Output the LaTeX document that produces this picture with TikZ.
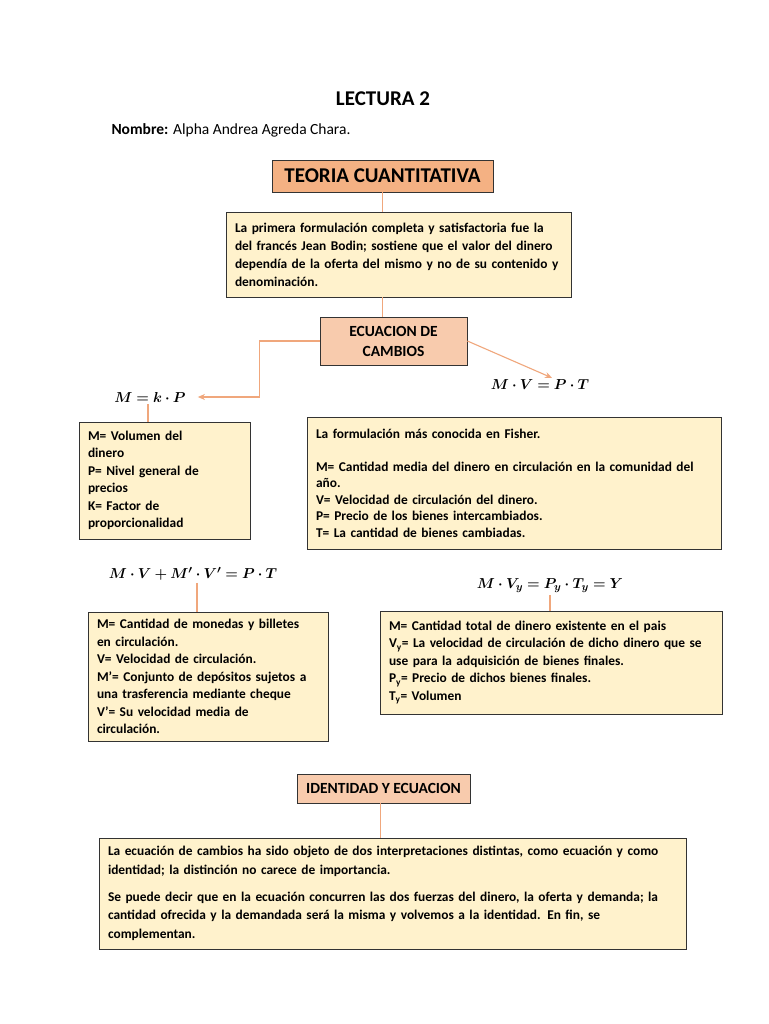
\documentclass[tikz,border=0pt]{standalone}
\usepackage{fontspec}
\setmainfont{Carlito}
\usepackage{amsmath,amssymb}
\usepackage{bm}
\usetikzlibrary{arrows.meta,positioning}
\definecolor{salmon}{HTML}{F4B183}
\definecolor{peach}{HTML}{F8CBAD}
\definecolor{cream}{HTML}{FFF2CC}
\definecolor{linkc}{HTML}{F0A77C}

\begin{document}
\begin{tikzpicture}[
    x=1pt, y=-1pt,
    every node/.style={font=\bfseries\fontsize{13.4}{17.5}\selectfont},
    head/.style={draw=black!80, line width=0.8pt, inner sep=0pt, align=center},
    note/.style={draw=black!80, line width=0.8pt, fill=cream, align=left, inner xsep=9pt, inner ysep=0pt},
    link/.style={line width=1.1pt, draw=linkc},
    arr/.style={link, -{Stealth[length=7pt, width=6pt]}},
    eq/.style={font=\fontsize{15}{18}\selectfont, inner sep=2pt}
  ]
    \useasboundingbox[fill=white] (0,0) rectangle (768,1024);
    \node[font=\bfseries\fontsize{21}{24}\selectfont] (lect) at (383,99) {LECTURA 2};
    \node[anchor=west, font=\fontsize{15.5}{18}\selectfont] (nom) at (108,130)
      {\textbf{Nombre:} Alpha Andrea Agreda Chara.};

    \node[head, fill=salmon, minimum width=221pt, minimum height=32pt,
      font=\bfseries\fontsize{21}{24}\selectfont] (teo) at (382.5,176) {TEORIA CUANTITATIVA};
    \node[note, text width=327pt, minimum height=85pt, font=\bfseries\fontsize{13.4}{18}\selectfont] (bodin) at (398.5,254.5)
      {La primera formulación completa y satisfactoria fue la\\
       del francés Jean Bodin; sostiene que el valor del dinero\\
       dependía de la oferta del mismo y no de su contenido y\\
       denominación.};
    \node[head, fill=peach, minimum width=147pt, minimum height=48pt,
      font=\bfseries\fontsize{15.5}{20}\selectfont] (ecu) at (393.5,341) {ECUACION DE\\CAMBIOS};

    % formulas
    \node[eq] (fkp) at (150,397) {$\bm{M = k\cdot P}$};
    \node[eq] (fmv) at (540,385) {$\bm{M\cdot V = P\cdot T}$};
    \node[eq] (fmv2) at (193,574) {$\bm{M\cdot V + M'\cdot V' = P\cdot T}$};
    \node[eq] (fmvy) at (550,586) {$\bm{M\cdot V_y = P_y\cdot T_y = Y}$};

    \node[note, text width=153pt, minimum height=117pt] (kp) at (164.5,480.5)
      {M= Volumen del\\dinero\\P= Nivel general de\\precios\\K= Factor de\\proporcionalidad};
    \node[note, text width=396pt, minimum height=132pt, font=\bfseries\fontsize{13.4}{16.5}\selectfont] (fish) at (514,483)
      {La formulación más conocida en Fisher.\\[16.5pt]
       M= Cantidad media del dinero en circulación en la comunidad del\\
       año.\\
       V= Velocidad de circulación del dinero.\\
       P= Precio de los bienes intercambiados.\\
       T= La cantidad de bienes cambiadas.};
    \node[note, text width=222pt, minimum height=129pt] (dep) at (208,676.5)
      {M= Cantidad de monedas y billetes\\
       en circulación.\\
       V= Velocidad de circulación.\\
       M’= Conjunto de depósitos sujetos a\\
       una trasferencia mediante cheque\\
       V’= Su velocidad media de\\
       circulación.};
    \node[note, text width=324pt, minimum height=103pt] (fin) at (551,662.5)
      {M= Cantidad total de dinero existente en el pais\\
       V\textsubscript{y}= La velocidad de circulación de dicho dinero que se\\
       use para la adquisición de bienes finales.\\
       P\textsubscript{y}= Precio de dichos bienes finales.\\
       T\textsubscript{y}= Volumen};

    \node[head, fill=peach, minimum width=173pt, minimum height=29pt,
      font=\bfseries\fontsize{15.5}{18}\selectfont] (ide) at (383.5,788.5) {IDENTIDAD Y ECUACION};
    \node[note, text width=569pt, minimum height=111pt, font=\bfseries\fontsize{13.4}{18.5}\selectfont] (conc) at (392.5,893.5)
      {La ecuación de cambios ha sido objeto de dos interpretaciones distintas, como ecuación y como\\
       identidad; la distinción no carece de importancia.\\[8.5pt]
       Se puede decir que en la ecuación concurren las dos fuerzas del dinero, la oferta y demanda; la\\
       cantidad ofrecida y la demandada será la misma y volvemos a la identidad. En fin, se\\
       complementan.};

    % connectors
    \draw[link] (teo.south) -- (teo.south |- bodin.north);
    \draw[link] (teo.south |- bodin.south) -- (teo.south |- ecu.north);
    \draw[arr] (ecu.west) -- ++(-60,0) |- ([xshift=10pt]fkp.east);
    \draw[arr] (ecu.east) -- ([xshift=12pt]fmv.north);
    \draw[link] ([xshift=-2pt]fkp.south) -- ([xshift=-2pt]fkp.south |- kp.north);
    \draw[link] ([xshift=4pt]fmv2.south) -- ([xshift=4pt]fmv2.south |- dep.north);
    \draw[link] (fmvy.south) -- (fmvy.south |- fin.north);
    \draw[link] ([xshift=-3pt]ide.south) -- ([xshift=-3pt]ide.south |- conc.north);
  \end{tikzpicture}
\end{document}
